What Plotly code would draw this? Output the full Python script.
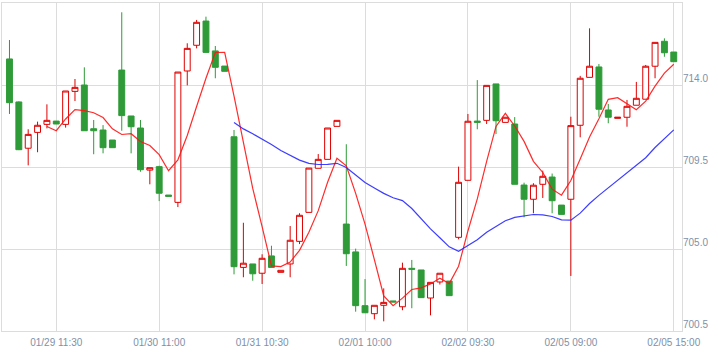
import plotly.graph_objects as go
import pandas as pd

opens = [715.43, 713.07, 710.53, 711.40, 711.84, 712.02, 711.84, 713.65, 714.00, 711.60,
         711.53, 710.98, 714.82, 712.30, 711.64, 709.33, 709.52, 707.96, 707.56, 714.77,
         716.18, 717.51, 715.87, 715.04, 711.16, 703.99, 704.18, 703.67, 704.62, 703.72,
         704.18, 705.42, 707.01, 709.43, 709.92, 711.73, 706.37, 704.84, 701.89, 701.45,
         701.91, 702.15, 701.83, 703.94, 703.85, 702.31, 703.19, 703.24, 705.64, 708.77,
         712.02, 712.06, 714.06, 711.95, 711.86, 708.51, 707.73, 708.55, 708.95, 707.41,
         707.73, 711.79, 714.42, 714.99, 712.63, 712.17, 712.23, 712.89, 713.22, 715.03,
         716.40, 715.81]
highs = [716.47, 713.10, 711.57, 711.99, 712.94, 712.02, 713.67, 714.33, 714.97, 712.08,
         711.80, 710.98, 717.99, 712.30, 712.08, 709.46, 709.57, 707.96, 714.71, 716.29,
         717.57, 717.75, 716.14, 715.04, 711.53, 706.44, 704.18, 704.71, 705.18, 703.83,
         706.26, 706.96, 709.44, 710.21, 711.64, 712.06, 710.75, 705.02, 703.35, 701.91,
         702.84, 702.15, 704.25, 704.40, 703.85, 703.17, 703.67, 703.24, 709.52, 712.41,
         714.27, 713.98, 714.06, 712.23, 712.24, 708.64, 708.61, 709.30, 709.14, 707.41,
         712.26, 714.50, 717.11, 715.15, 712.96, 712.23, 713.18, 714.17, 715.10, 716.34,
         716.56, 715.81]
lows = [712.41, 710.43, 709.59, 710.31, 711.62, 711.86, 711.66, 713.12, 711.49, 710.20,
        710.25, 710.56, 711.49, 710.25, 709.24, 708.55, 707.63, 707.89, 707.30, 713.98,
        716.01, 715.79, 714.37, 714.75, 703.61, 703.45, 703.26, 703.08, 703.99, 703.72,
        703.45, 705.27, 707.01, 709.43, 709.92, 711.73, 704.07, 701.56, 701.50, 701.14,
        701.03, 702.09, 701.64, 701.75, 702.33, 701.36, 703.05, 702.44, 705.53, 708.77,
        711.57, 711.86, 711.31, 711.95, 708.55, 706.74, 706.96, 707.80, 706.96, 706.90,
        703.52, 711.13, 714.42, 712.26, 711.90, 712.17, 711.71, 712.89, 713.22, 714.37,
        715.55, 715.28]
closes = [713.03, 710.45, 711.29, 711.79, 712.06, 711.86, 713.67, 713.87, 711.49, 711.49,
          710.56, 710.56, 712.32, 711.71, 709.35, 709.46, 708.06, 707.89, 714.71, 716.01,
          717.44, 715.79, 714.97, 714.75, 704.03, 704.22, 703.64, 704.49, 703.99, 703.83,
          705.48, 706.85, 709.44, 709.92, 711.64, 712.06, 704.74, 701.89, 701.50, 701.91,
          702.07, 702.09, 703.94, 703.89, 702.33, 703.17, 703.67, 702.44, 708.66, 712.01,
          711.95, 713.98, 712.04, 712.23, 708.55, 707.73, 708.50, 708.99, 707.65, 706.90,
          711.77, 714.37, 715.03, 712.67, 712.23, 712.23, 712.83, 713.27, 715.03, 716.34,
          715.77, 715.28]

tick_labels = ["01/29 11:30", "01/30 11:00", "01/31 10:30", "02/01 10:00",
               "02/02 09:30", "02/05 09:00", "02/05 15:00"]
tick_bars = [5, 16, 27, 38, 49, 60, 71]
y_ticks = [700.5, 705.0, 709.5, 714.0]

x = list(range(len(closes)))
close_s = pd.Series(closes)
ma_short = close_s.rolling(5).mean()
ma_long = close_s.rolling(25).mean()

RED = "rgb(222,0,0)"
GREEN = "rgb(46,155,56)"
GRID = "#dcdcdc"
LABEL = "#8090a8"

fig = go.Figure()
fig.add_trace(go.Candlestick(
    x=x, open=opens, high=highs, low=lows, close=closes,
    increasing=dict(line=dict(color=RED, width=1), fillcolor="white"),
    decreasing=dict(line=dict(color=GREEN, width=1), fillcolor=GREEN),
    whiskerwidth=0, showlegend=False, hoverinfo="skip"))
fig.add_trace(go.Scatter(x=x, y=ma_short, mode="lines",
                         line=dict(color="rgba(255,20,20,0.9)", width=1.2),
                         showlegend=False, hoverinfo="skip"))
fig.add_trace(go.Scatter(x=x, y=ma_long, mode="lines",
                         line=dict(color="rgba(40,40,255,0.9)", width=1.2),
                         showlegend=False, hoverinfo="skip"))

fig.update_layout(
    width=718, height=352,
    margin=dict(l=2, r=36, t=3, b=21),
    paper_bgcolor="white", plot_bgcolor="white",
    boxgap=0.1,
    font=dict(family="Liberation Sans, Arial", size=10, color=LABEL),
    xaxis=dict(range=[-0.8, 71.88], tickmode="array", tickvals=tick_bars,
               ticktext=tick_labels, showgrid=True, gridcolor=GRID, gridwidth=1,
               showline=True, linecolor=GRID, linewidth=1, mirror=True,
               zeroline=False, ticks="", rangeslider=dict(visible=False),
               ticklabelstandoff=2),
    yaxis=dict(range=[700.5, 718.5], side="right", tickmode="array",
               tickvals=y_ticks, ticktext=[f"{v:.1f}" for v in y_ticks],
               showgrid=True, gridcolor=GRID, gridwidth=1,
               showline=True, linecolor=GRID, linewidth=1, mirror=True,
               zeroline=False, ticks="", ticklabelshift=-7, ticklabelstandoff=-2),
)
fig.write_html("out.html")
